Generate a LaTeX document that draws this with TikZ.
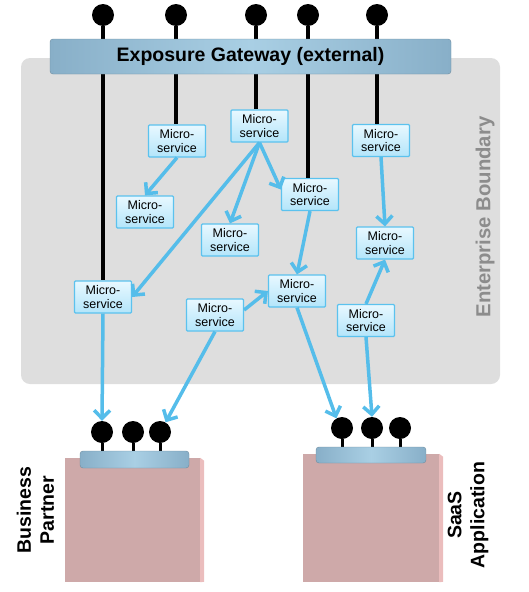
\documentclass[tikz,border=0pt]{standalone}
\usepackage{fontspec}
\setmainfont{Liberation Sans}
\usepackage{xcolor}
\usetikzlibrary{arrows.meta}

\definecolor{msline}{HTML}{5BC2EE}
\definecolor{mstop}{HTML}{E8F8FF}
\definecolor{msbot}{HTML}{B3E5FA}
\definecolor{flowblue}{HTML}{55BDEA}
\definecolor{gwedge}{HTML}{88AFC8}
\definecolor{gwmid}{HTML}{A9CFE4}
\definecolor{boundgray}{HTML}{DEDEDE}
\definecolor{boundtext}{HTML}{8C8C8C}
\definecolor{pinkbox}{HTML}{CEA9A9}
\definecolor{pinkedge}{HTML}{EBBDBD}

\begin{document}
\begin{tikzpicture}[x=1pt, y=-1pt,
    ms/.style={draw=msline, line width=1.2pt, rounded corners=1pt, top color=mstop, bottom color=msbot,
      minimum width=57pt, minimum height=32pt, inner sep=0pt, align=center, font=\fontsize{12.5}{13.5}\selectfont},
    pin/.style={circle, fill=black, minimum size=22pt, inner sep=0pt},
    wire/.style={line width=4pt},
    stem/.style={line width=3pt},
    flow/.style={draw=flowblue, line width=3.5pt, -{Straight Barb[length=8pt, width=16pt]}},
    bar/.style={rounded corners=3pt, left color=gwedge, right color=gwedge, middle color=gwmid, draw=gwedge!80!black, line width=0.4pt},
    host/.style={fill=pinkbox, inner sep=0pt}]
  \useasboundingbox (0,0) rectangle (528,592);

  % enterprise boundary
  \fill[boundgray, rounded corners=9pt] (21,58) rectangle (500,384);
  \node[rotate=90, text=boundtext, font=\fontsize{20.3}{22}\bfseries\selectfont] (eb) at (485,217) {Enterprise Boundary};

  % micro-services
  \node[ms] (A) at (177,141) {Micro-\\service};
  \node[ms] (B) at (259.5,126) {Micro-\\service};
  \node[ms] (C) at (145,212) {Micro-\\service};
  \node[ms] (D) at (230,240) {Micro-\\service};
  \node[ms] (E) at (103,297) {Micro-\\service};
  \node[ms] (F) at (215,315) {Micro-\\service};
  \node[ms] (G) at (297,291) {Micro-\\service};
  \node[ms] (H) at (310,194.5) {Micro-\\service};
  \node[ms] (I) at (381,140.5) {Micro-\\service};
  \node[ms] (J) at (385,243) {Micro-\\service};
  \node[ms] (K) at (366,320.5) {Micro-\\service};

  % exposure points
  \node[pin] (t1) at (103,15) {};
  \node[pin] (t2) at (176,15) {};
  \node[pin] (t3) at (256,15) {};
  \node[pin] (t4) at (308,15) {};
  \node[pin] (t5) at (377,15) {};

  \draw[wire] (t1) -- (t1 |- E.north);
  \draw[wire] (t2) -- (t2 |- A.north);
  \draw[wire] (t3) -- (t3 |- B.north);
  \draw[wire] (t4) -- (t4 |- H.north);
  \draw[wire] (t5) -- (t5 |- I.north);

  \node[bar, minimum width=401pt, minimum height=35pt, inner sep=0pt,
    font=\fontsize{19.5}{22}\bfseries\selectfont] (gw) at (250.5,56.5) {Exposure Gateway (external)};

  % business partner
  \node[host, minimum width=135pt, minimum height=124pt] (partner) at (132.5,520) {};
  \fill[pinkedge] (partner.north east) -- ++(4,3) -- ++(0,121) -- (partner.south east) -- cycle;
  \node[pin] (p1) at (102,432) {};
  \node[pin] (p2) at (133,432) {};
  \node[pin] (p3) at (160,432) {};
  \draw[stem] (p1) -- (102,452);
  \draw[stem] (p2) -- (133,452);
  \draw[stem] (p3) -- (160,452);
  \node[bar, minimum width=109pt, minimum height=17pt] (pbar) at (134.5,459.5) {};
  \node[rotate=90, align=center, font=\fontsize{19.5}{23}\bfseries\selectfont] (bp) at (35.5,510) {Business\\Partner};

  % saas application
  \node[host, minimum width=136pt, minimum height=128pt] (saas) at (371,518) {};
  \fill[pinkedge] (saas.north east) -- ++(4,3) -- ++(0,125) -- (saas.south east) -- cycle;
  \node[pin] (s1) at (342,428) {};
  \node[pin] (s2) at (372,428) {};
  \node[pin] (s3) at (400,428) {};
  \draw[stem] (s1) -- (342,448);
  \draw[stem] (s2) -- (372,448);
  \draw[stem] (s3) -- (400,448);
  \node[bar, minimum width=110pt, minimum height=16pt] (sbar) at (371,455) {};
  \node[rotate=90, align=center, font=\fontsize{19.5}{23}\bfseries\selectfont] (sa) at (468,515) {SaaS\\Application};

  % calls
  \draw[flow] (A.south) -- (C.north);
  \draw[flow] (B.south) -- (E.east);
  \draw[flow] (B.south) -- (D.north);
  \draw[flow] (B.south) -- ([yshift=5pt]H.west);
  \draw[flow] (H.south) -- (G.north);
  \draw[flow] ([yshift=5pt]F.east) -- (G.west);
  \draw[flow] (I.south) -- (J.north);
  \draw[flow] (K.north) -- (J.south);
  \draw[flow] (E.south) -- (p1.north);
  \draw[flow] (F.south) -- (p3.60);
  \draw[flow] (G.south) -- (s1.120);
  \draw[flow] (K.south) -- (s2.north);
\end{tikzpicture}
\end{document}
